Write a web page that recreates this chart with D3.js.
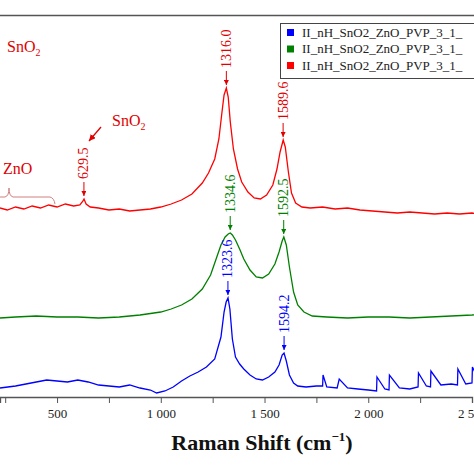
<!DOCTYPE html><html><head><meta charset="utf-8">
<script src="https://cdn.jsdelivr.net/npm/d3@7"></script>
<style>body{margin:0;background:#fff}</style></head><body><svg id="c" width="474" height="474"></svg>
<script>
const xTicks=[250,500,750,1000,1250,1500,1750,2000,2250,2500,2750];
const xLabels=["500","1 000","1 500","2 000","2 500"];
const seriesNames=["II_nH_SnO2_ZnO_PVP_3_1_","II_nH_SnO2_ZnO_PVP_3_1_","II_nH_SnO2_ZnO_PVP_3_1_"];
const colors=["#0000ff","#008000","#ff0000"];
const redX=[225,260,300,340,380,420,460,500,540,580,610,625,630,640,660,700,750,800,850,900,950,1000,1050,1100,1150,1200,1230,1260,1280,1295,1305,1316,1325,1335,1350,1370,1390,1420,1450,1480,1510,1540,1560,1575,1590,1600,1615,1630,1650,1680,1720,1780,1840,1900,1960,2020,2080,2140,2200,2260,2320,2380,2440,2500,2560,2620,2660];
const redY=[189,187,190,188,191,189,192,190,193,191,192,196,198,193,190,189,187,188,186,187,188,190,193,197,203,214,224,238,258,285,302,309,300,275,248,228,215,205,199,198,202,212,228,245,257,250,225,204,194,190,189,190,188,189,187,186,185,184,185,184,183,184,183,184,182,184,183];
const greenX=[225,300,400,500,600,700,800,900,1000,1050,1100,1150,1200,1240,1270,1290,1310,1325,1335,1345,1360,1380,1400,1430,1460,1490,1520,1550,1570,1585,1593,1605,1620,1640,1660,1690,1730,1800,1900,2000,2100,2200,2300,2400,2500,2600,2660];
const greenY=[79,80,81,80,80,79,80,82,85,88,92,98,108,122,140,152,160,163,164,162,157,148,138,127,120,119,123,133,145,156,160,152,130,105,92,85,81,80,79,80,80,79,80,81,82,84,85];
const blueX=[225,300,350,400,450,500,550,600,650,700,750,800,850,900,950,980,1020,1060,1100,1140,1180,1220,1260,1290,1305,1315,1324,1333,1345,1360,1380,1400,1430,1460,1490,1520,1550,1570,1585,1594,1605,1620,1640,1660,1700,1750,1780,1782,1800,1850,1860,1900,1950,2000,2040,2042,2080,2100,2102,2150,2200,2240,2242,2280,2300,2302,2350,2400,2430,2432,2470,2500,2502,2540,2580,2582,2620,2660];
const blueY=[9,11,13,15,17,16,15,17,15,12,11,10,12,9,7,4,6,10,16,21,25,30,38,60,85,95,99,88,58,40,33,28,22,18,17,20,25,32,42,44,36,22,14,11,10,11,11,22,10,9,18,9,8,7,6,20,8,7,22,9,8,10,24,11,10,26,12,13,12,28,13,14,30,14,15,32,14,16];
const ann=[
 {t:"1316.0",v:1316,y:309,c:"#e00000"},
 {t:"1589.6",v:1589.6,y:257,c:"#e00000"},
 {t:"629.5",v:629.5,y:198,c:"#e00000"},
 {t:"1334.6",v:1334.6,y:164,c:"#008000"},
 {t:"1592.5",v:1592.5,y:160,c:"#008000"},
 {t:"1323.6",v:1323.6,y:99,c:"#0000ff"},
 {t:"1594.2",v:1594.2,y:44,c:"#0000ff"}];
const svg=d3.select("#c");
const x=d3.scaleLinear().domain([225,2500]).range([0,472]);
const y=d3.scaleLinear().domain([0,382]).range([397,15]);
const font="Liberation Serif";
svg.append("line").attr("x1",0).attr("x2",474).attr("y1",15.5).attr("y2",15.5).attr("stroke","#555").attr("stroke-width",1.3);
const ax=svg.append("g").attr("transform","translate(0,397)").call(d3.axisBottom(x).tickValues(xTicks).tickSize(6).tickFormat(d=>d%500===0?xLabels[d/500-1]:""));
ax.select(".domain").attr("stroke","#555").attr("stroke-width",1.3);
ax.selectAll("line").attr("stroke","#555");
ax.selectAll("text").attr("font-family",font).attr("font-size",13).attr("fill","#222").attr("dy","0.9em");
const line=d3.line().x(d=>x(d[0])).y(d=>y(d[1]));
[[blueX,blueY],[greenX,greenY],[redX,redY]].forEach((s,i)=>{
 svg.append("path").attr("d",line(s[0].map((v,j)=>[v,s[1][j]]))).attr("fill","none").attr("stroke",colors[i]).attr("stroke-width",1.3);
});
svg.append("defs").selectAll("marker").data(["#e00000","#008000","#0000ff"]).join("marker").attr("id",(d,i)=>"m"+i).attr("viewBox","0 0 10 10").attr("refX",10).attr("refY",5).attr("markerWidth",5).attr("markerHeight",5).attr("orient","auto").append("path").attr("d","M0,0L10,5L0,10z").attr("fill",d=>d);
const mid=c=>c==="#e00000"?"m0":c==="#008000"?"m1":"m2";
ann.forEach(a=>{
 const px=x(a.v),py=y(a.y)-3;
 svg.append("line").attr("x1",px).attr("x2",px).attr("y1",py-14).attr("y2",py).attr("stroke",a.c).attr("marker-end","url(#"+mid(a.c)+")");
 svg.append("text").attr("transform",`translate(${px+4.5},${py-17}) rotate(-90)`).attr("font-family",font).attr("font-size",14).attr("fill",a.c).text(a.t);
});
const red="#e00000";
const sn=(tx,ty)=>{const t=svg.append("text").attr("x",tx).attr("y",ty).attr("font-family",font).attr("font-size",16).attr("fill",red).text("SnO");t.append("tspan").attr("font-size",10).attr("dy",4).text("2");};
sn(7,52);sn(112,126);
svg.append("line").attr("x1",101).attr("y1",127).attr("x2",89).attr("y2",141).attr("stroke",red).attr("stroke-width",1.3).attr("marker-end","url(#m0)");
svg.append("text").attr("x",3).attr("y",174).attr("font-family",font).attr("font-size",16).attr("fill",red).text("ZnO");
svg.append("path").attr("d","M0,197 L5,197 Q9,196 9,188 Q9,196 13,197 L50,197 Q54,198 55,204").attr("fill","none").attr("stroke","#d08080").attr("stroke-width",1);
const lg=svg.append("g");
lg.append("rect").attr("x",280.5).attr("y",23.5).attr("width",200).attr("height",55).attr("fill","#fff").attr("stroke","#444");
seriesNames.forEach((n,i)=>{
 lg.append("rect").attr("x",287).attr("y",29+i*16.5).attr("width",7).attr("height",7).attr("fill",colors[i]);
 lg.append("text").attr("x",302).attr("y",36.5+i*16.5).attr("font-family",font).attr("font-size",13).attr("fill","#222").text(n);
});
const tt=svg.append("text").attr("x",262).attr("y",450).attr("text-anchor","middle").attr("font-family",font).attr("font-size",22).attr("font-weight","bold").attr("fill","#111").text("Raman Shift (cm");
tt.append("tspan").attr("font-size",13).attr("dy",-9).text("−1");
tt.append("tspan").attr("dy",9).text(")");
</script></body></html>
